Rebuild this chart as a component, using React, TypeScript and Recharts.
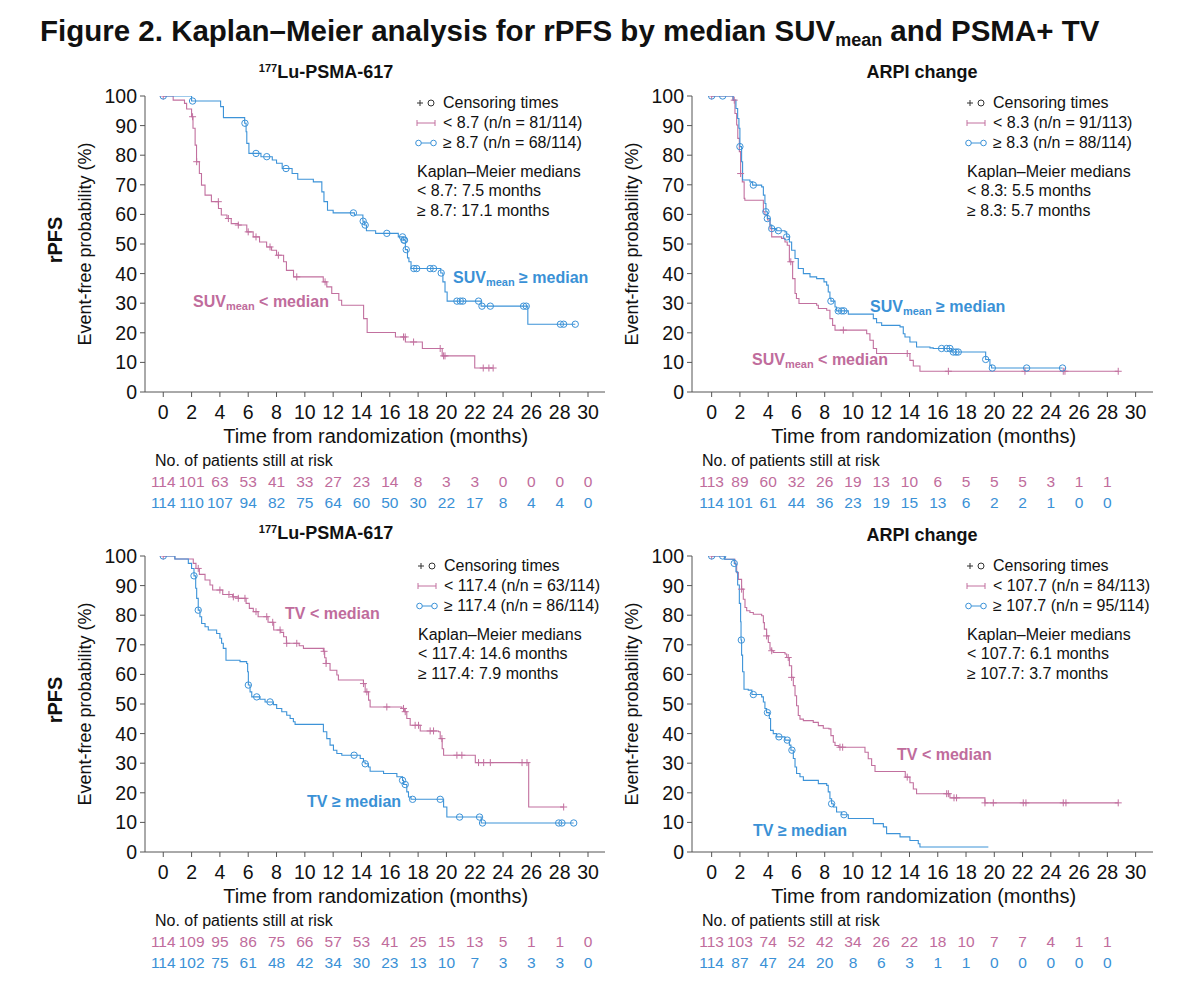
import React from "react";
import { ComposedChart, Line, XAxis, YAxis } from "recharts";

type Step = [number, number];

const FONT = '"Liberation Sans", Arial, Helvetica, sans-serif';
const PINK = "#c2709f";
const BLUE = "#3d93d8";
const PINK_TEXT = "#c06c9c";
const BLUE_TEXT = "#3a91d6";
const AXIS = "#555";
const INK = "#111";

const monthTicks = [0, 2, 4, 6, 8, 10, 12, 14, 16, 18, 20, 22, 24, 26, 28, 30];
const pctTicks = [0, 10, 20, 30, 40, 50, 60, 70, 80, 90, 100];

// ---------- 177Lu-PSMA-617, split by median SUVmean (8.7) ----------
const luSuvLow: Step[] = [
  [0, 100], [0.7, 98.6], [1.5, 97.5], [1.65, 95.6], [2.0, 93.0], [2.1, 89.1], [2.25, 83.4],
  [2.35, 77.8], [2.55, 73.8], [2.7, 69.9], [2.95, 66.5], [3.4, 64.3], [3.9, 62.0], [4.1, 59.8],
  [4.5, 58.6], [4.8, 56.9], [5.3, 56.4], [5.9, 54.1], [6.35, 52.4], [6.8, 50.7], [7.3, 49.0],
  [7.65, 47.9], [8.0, 46.2], [8.5, 44.0], [8.7, 41.1], [9.2, 38.9], [11.3, 37.2], [11.55, 35.5],
  [11.9, 33.3], [12.4, 31.0], [12.6, 29.3], [14.15, 24.8], [14.4, 20.1], [16.4, 18.6],
  [17.1, 16.9], [18.3, 14.7], [19.7, 12.2], [22.0, 8.1], [23.3, 8.1],
];
const luSuvLowCensor = [
  0, 2.07, 2.36, 3.89, 4.6, 5.3, 6.0, 6.55, 7.54, 8.13, 9.43, 11.43, 16.97, 17.09, 17.68,
  19.56, 19.8, 19.9, 22.6, 23.0, 23.3,
];
const luSuvHigh: Step[] = [
  [0, 100], [2.0, 98.3], [4.05, 96.4], [4.25, 92.7], [5.75, 90.8], [5.85, 87.9], [5.9, 84.0],
  [6.05, 80.6], [6.9, 79.5], [7.7, 78.4], [8.0, 77.3], [8.4, 75.5], [9.1, 73.8], [9.5, 71.9],
  [10.6, 71.0], [11.2, 67.6], [11.35, 64.3], [11.6, 61.4], [12.0, 60.5], [13.5, 59.8],
  [14.1, 57.7], [14.2, 56.4], [14.35, 54.5], [15.0, 53.6], [16.6, 52.4], [16.95, 51.3],
  [17.1, 48.1], [17.25, 45.3], [17.35, 44.0], [17.5, 41.7], [19.6, 40.2], [19.75, 37.2],
  [19.9, 33.8], [20.05, 30.7], [22.45, 29.0], [25.75, 22.9], [29.1, 22.9],
];
const luSuvHighCensor = [
  0, 2.07, 5.77, 6.55, 7.31, 8.67, 13.43, 14.12, 14.26, 15.79, 16.9, 17.0, 17.04, 17.16,
  17.7, 17.9, 18.85, 19.09, 19.63, 20.74, 20.98, 21.16, 22.27, 22.51, 23.1, 25.45, 25.64,
  28.05, 28.28, 29.1,
];

// ---------- ARPI change, split by median SUVmean (8.3) ----------
const arpiSuvLow: Step[] = [
  [0, 100], [1.5, 98.6], [1.65, 94.1], [1.77, 90.2], [1.85, 85.7], [1.96, 81.2], [2.05, 73.8],
  [2.17, 71.0], [2.3, 65.4], [2.35, 64.8], [3.66, 60.9], [3.77, 59.8], [3.96, 58.1],
  [4.13, 55.2], [4.25, 52.4], [4.95, 51.9], [5.19, 50.7], [5.35, 49.6], [5.5, 44.0],
  [5.73, 38.3], [5.9, 33.3], [6.0, 31.6], [6.18, 29.9], [7.43, 29.3], [7.55, 28.2],
  [8.14, 27.6], [8.37, 24.8], [8.56, 22.5], [8.73, 20.9], [10.97, 19.7], [11.2, 17.5],
  [11.44, 14.7], [11.67, 13.0], [14.03, 10.7], [14.27, 8.8], [14.74, 7.0], [28.77, 7.0],
];
const arpiSuvLowCensor = [0, 1.6, 2.05, 5.6, 9.32, 13.84, 16.75, 22.17, 24.88, 25.0, 28.77];
const arpiSuvHigh: Step[] = [
  [0, 100], [1.53, 98.6], [1.72, 95.8], [1.84, 92.4], [1.93, 89.1], [2.0, 82.9], [2.12, 77.8],
  [2.19, 71.6], [2.71, 71.0], [2.9, 69.9], [3.54, 69.3], [3.66, 66.5], [3.77, 63.7],
  [3.84, 60.9], [3.94, 58.6], [4.13, 56.4], [4.25, 55.2], [4.6, 54.5], [5.19, 54.1],
  [5.31, 52.4], [5.5, 50.7], [5.66, 47.9], [5.9, 45.1], [6.13, 41.7], [6.49, 40.0],
  [6.96, 38.9], [7.43, 38.3], [7.95, 37.2], [8.14, 36.1], [8.25, 33.8], [8.37, 31.6],
  [8.44, 30.7], [8.73, 28.7], [8.84, 27.4], [9.67, 26.3], [11.44, 24.8], [11.67, 23.4],
  [12.03, 22.5], [13.33, 22.0], [13.56, 19.7], [13.68, 18.6], [14.03, 16.9], [14.5, 15.2],
  [15.45, 14.9], [15.68, 14.7], [16.98, 13.5], [19.39, 11.0], [19.69, 9.0], [19.81, 8.1],
  [24.83, 8.1],
];
const arpiSuvHighCensor = [
  0, 0.78, 2.0, 2.95, 3.84, 3.94, 4.25, 4.72, 5.31, 8.44, 8.96, 9.2, 9.36, 16.27, 16.63,
  16.86, 17.1, 17.29, 17.45, 19.39, 19.86, 22.29, 24.83,
];

// ---------- 177Lu-PSMA-617, split by median PSMA+ TV (117.4) ----------
const luTvLow: Step[] = [
  [0, 100], [0.82, 99.0], [2.12, 97.5], [2.31, 95.8], [2.55, 93.8], [2.95, 91.9], [3.3, 90.2],
  [3.49, 88.5], [4.2, 87.0], [4.9, 86.2], [5.3, 85.7], [5.85, 84.0], [6.08, 82.3],
  [6.36, 81.2], [6.7, 79.5], [7.4, 77.6], [7.8, 75.0], [8.3, 74.2], [8.5, 72.7], [8.7, 70.5],
  [9.6, 69.7], [9.9, 68.8], [11.31, 67.8], [11.4, 65.6], [11.5, 63.7], [11.78, 61.4],
  [12.26, 59.8], [12.37, 58.1], [14.14, 56.9], [14.26, 54.1], [14.5, 51.3], [14.61, 49.0],
  [16.85, 48.5], [17.05, 47.4], [17.2, 45.1], [17.44, 42.8], [18.15, 40.9], [19.44, 40.6],
  [19.56, 38.3], [19.7, 34.9], [19.8, 32.7], [22.04, 30.2], [25.81, 15.2], [28.28, 15.2],
];
const luTvLowCensor = [
  0, 2.47, 4.0, 4.64, 4.95, 5.3, 5.77, 6.55, 7.31, 7.73, 8.25, 8.72, 9.43, 11.36, 11.5,
  14.14, 14.38, 15.79, 16.97, 17.09, 17.79, 18.03, 18.85, 19.09, 19.68, 20.74, 21.09,
  22.27, 22.63, 23.1, 25.34, 25.69, 28.28,
];
const luTvHigh: Step[] = [
  [0, 100], [0.82, 99.0], [1.77, 97.5], [2.0, 95.8], [2.17, 93.3], [2.29, 89.1], [2.36, 85.7],
  [2.47, 81.7], [2.59, 79.5], [2.71, 77.2], [2.95, 76.1], [3.18, 75.0], [3.77, 73.8],
  [4.0, 72.2], [4.12, 70.5], [4.24, 68.8], [4.43, 64.8], [5.42, 64.3], [5.89, 63.7],
  [5.96, 60.9], [6.01, 56.4], [6.13, 54.1], [6.25, 52.4], [6.83, 51.6], [7.19, 50.7],
  [7.78, 49.8], [8.01, 48.5], [8.37, 47.4], [8.72, 46.2], [8.96, 45.1], [9.19, 44.0],
  [9.31, 43.1], [11.31, 40.6], [11.55, 38.3], [11.78, 36.1], [12.02, 34.4], [12.26, 33.3],
  [12.61, 32.7], [13.91, 31.6], [14.14, 30.4], [14.26, 29.8], [14.49, 28.7], [14.61, 27.3],
  [15.56, 26.5], [16.5, 25.4], [16.9, 24.2], [16.97, 22.8], [17.2, 20.3], [17.32, 18.6],
  [17.5, 17.8], [19.8, 15.2], [20.03, 11.8], [22.46, 9.8], [28.99, 9.8],
];
const luTvHighCensor = [
  0, 2.17, 2.47, 6.01, 6.6, 7.54, 13.48, 14.26, 16.9, 17.09, 17.61, 19.56, 20.93, 22.34,
  22.55, 27.93, 28.16, 28.99,
];

// ---------- ARPI change, split by median PSMA+ TV (107.7) ----------
const arpiTvLow: Step[] = [
  [0, 100], [0.94, 98.9], [1.65, 97.2], [1.77, 94.4], [1.89, 92.1], [2.12, 88.8], [2.24, 85.4],
  [2.36, 82.6], [2.48, 81.5], [2.71, 80.9], [2.95, 80.3], [3.54, 79.8], [3.66, 77.5],
  [3.73, 75.3], [3.89, 73.0], [4.01, 70.8], [4.13, 68.5], [4.25, 68.0], [4.36, 67.4],
  [5.19, 66.9], [5.31, 65.7], [5.5, 62.9], [5.66, 59.0], [5.78, 56.2], [5.9, 52.8],
  [6.01, 49.4], [6.13, 46.1], [6.25, 44.9], [6.49, 44.4], [7.19, 43.8], [7.55, 42.7],
  [7.9, 41.8], [8.3, 41.6], [8.44, 39.3], [8.61, 37.1], [8.73, 36.0], [9.0, 35.4],
  [10.85, 33.7], [11.08, 31.5], [11.32, 29.2], [11.56, 27.2], [13.7, 25.3], [14.03, 23.4],
  [14.27, 21.3], [14.5, 19.7], [16.86, 18.3], [19.34, 16.6], [28.77, 16.6],
];
const arpiTvLowCensor = [
  0, 2.12, 3.89, 4.25, 5.42, 5.66, 9.08, 9.27, 13.84, 16.63, 16.75, 17.15, 17.33, 19.34,
  19.93, 22.05, 22.24, 24.88, 25.07, 28.77,
];
const arpiTvHigh: Step[] = [
  [0, 100], [0.9, 98.9], [1.6, 97.5], [1.72, 94.7], [1.84, 90.2], [1.96, 84.0], [2.05, 77.8],
  [2.08, 71.6], [2.12, 66.5], [2.19, 60.9], [2.29, 55.0], [2.59, 54.7], [2.85, 53.2],
  [3.54, 52.4], [3.66, 50.7], [3.77, 48.5], [3.89, 47.1], [4.08, 45.1], [4.17, 41.1],
  [4.36, 40.0], [4.6, 38.9], [5.19, 37.8], [5.5, 36.1], [5.61, 34.4], [5.78, 31.6],
  [5.9, 28.7], [6.01, 26.5], [6.25, 25.4], [6.49, 24.2], [7.55, 23.1], [8.14, 22.5],
  [8.25, 20.3], [8.37, 18.0], [8.49, 16.3], [8.61, 15.2], [8.84, 13.5], [9.2, 12.6],
  [9.67, 11.3], [11.44, 9.6], [12.15, 8.5], [12.38, 6.2], [13.33, 5.1], [14.03, 3.9],
  [14.62, 2.8], [14.74, 1.7], [19.58, 1.7],
];
const arpiTvHighCensor = [0, 0.78, 1.6, 2.1, 2.95, 3.95, 4.76, 5.35, 5.68, 8.49, 9.36];

// ---------- Numbers at risk (every 2 months) ----------
const luSuvLowRisk = [114, 101, 63, 53, 41, 33, 27, 23, 14, 8, 3, 3, 0, 0, 0, 0];
const luSuvHighRisk = [114, 110, 107, 94, 82, 75, 64, 60, 50, 30, 22, 17, 8, 4, 4, 0];
const arpiSuvLowRisk = [113, 89, 60, 32, 26, 19, 13, 10, 6, 5, 5, 5, 3, 1, 1];
const arpiSuvHighRisk = [114, 101, 61, 44, 36, 23, 19, 15, 13, 6, 2, 2, 1, 0, 0];
const luTvLowRisk = [114, 109, 95, 86, 75, 66, 57, 53, 41, 25, 15, 13, 5, 1, 1, 0];
const luTvHighRisk = [114, 102, 75, 61, 48, 42, 34, 30, 23, 13, 10, 7, 3, 3, 3, 0];
const arpiTvLowRisk = [113, 103, 74, 52, 42, 34, 26, 22, 18, 10, 7, 7, 4, 1, 1];
const arpiTvHighRisk = [114, 87, 47, 24, 20, 8, 6, 3, 1, 1, 0, 0, 0, 0, 0];

// ---------- Helpers ----------
function survivalAt(steps: Step[], t: number): number {
  let s = steps[0][1];
  for (const [ti, si] of steps) {
    if (ti <= t + 1e-9) s = si;
    else break;
  }
  return s;
}
const curveRows = (steps: Step[]) => steps.map(([t, s]) => ({ t, s }));
const censorRows = (times: number[], steps: Step[]) =>
  times.map((t) => ({ t, s: survivalAt(steps, t) }));

const plusDot = (p: any) => {
  if (p.cx == null || p.cy == null) return <g key={`p${p.index}`} />;
  const { cx, cy } = p;
  return (
    <path
      key={`p${p.index}`}
      d={`M${cx - 3.5},${cy}H${cx + 3.5}M${cx},${cy - 3.5}V${cy + 3.5}`}
      stroke={PINK}
      strokeWidth={1}
      fill="none"
    />
  );
};
const circleDot = (p: any) => {
  if (p.cx == null || p.cy == null) return <g key={`c${p.index}`} />;
  return (
    <circle key={`c${p.index}`} cx={p.cx} cy={p.cy} r={3.2} stroke={BLUE} strokeWidth={1} fill="none" />
  );
};

type Box = { x: number; y: number; w: number; h: number; dom: [number, number] };

const boxTL: Box = { x: 145, y: 96, w: 460, h: 296, dom: [-1.29, 31.2] };
const boxTR: Box = { x: 692, y: 96, w: 461, h: 296, dom: [-1.39, 31.23] };
const boxBL: Box = { x: 145, y: 556, w: 460, h: 296, dom: [-1.29, 31.2] };
const boxBR: Box = { x: 692, y: 556, w: 461, h: 296, dom: [-1.39, 31.23] };

const xOf = (b: Box, t: number) => b.x + ((t - b.dom[0]) / (b.dom[1] - b.dom[0])) * b.w;

// ---------- Text helpers ----------
const Txt: React.FC<{
  x: number;
  y: number;
  size: number;
  color?: string;
  bold?: boolean;
  align?: "left" | "center" | "right";
  children: React.ReactNode;
  rotate?: boolean;
}> = ({ x, y, size, color = INK, bold, align = "left", children, rotate }) => {
  const tx = align === "center" ? "-50%" : align === "right" ? "-100%" : "0";
  return (
    <div
      style={{
        position: "absolute",
        left: x,
        top: y,
        transform: rotate ? "translate(-50%,-50%) rotate(-90deg)" : `translate(${tx},-50%)`,
        fontFamily: FONT,
        fontSize: size,
        fontWeight: bold ? 700 : 400,
        color,
        lineHeight: 1,
        whiteSpace: "nowrap",
      }}
    >
      {children}
    </div>
  );
};

const Sub: React.FC<{ children: React.ReactNode; size: number }> = ({ children, size }) => (
  <span style={{ fontSize: size, position: "relative", top: "0.3em" }}>{children}</span>
);

// ---------- Panel pieces ----------
function KMChart(props: {
  box: Box;
  low: Step[];
  high: Step[];
  lowCensor: number[];
  highCensor: number[];
}) {
  const { box, low, high, lowCensor, highCensor } = props;
  const yw = 60;
  const mt = 10;
  const mr = 10;
  const xh = 40;
  const tickStyle = { fill: INK, fontSize: 19.5, fontFamily: FONT };
  return (
    <div style={{ position: "absolute", left: box.x - yw, top: box.y - mt }}>
      <ComposedChart
        width={yw + box.w + mr}
        height={mt + box.h + xh}
        margin={{ top: mt, right: mr, bottom: 0, left: 0 }}
      >
        <XAxis
          dataKey="t"
          type="number"
          domain={box.dom}
          ticks={monthTicks}
          interval={0}
          allowDataOverflow
          height={xh}
          tickSize={5}
          tickMargin={8}
          tick={tickStyle}
          stroke={AXIS}
        />
        <YAxis
          type="number"
          domain={[0, 100]}
          ticks={pctTicks}
          interval={0}
          allowDataOverflow
          width={yw}
          tickSize={5}
          tickMargin={3}
          tick={tickStyle}
          stroke={AXIS}
        />
        <Line
          data={curveRows(low)}
          dataKey="s"
          type="stepAfter"
          stroke={PINK}
          strokeWidth={1.1}
          dot={false}
          activeDot={false}
          isAnimationActive={false}
        />
        <Line
          data={curveRows(high)}
          dataKey="s"
          type="stepAfter"
          stroke={BLUE}
          strokeWidth={1.1}
          dot={false}
          activeDot={false}
          isAnimationActive={false}
        />
        <Line
          data={censorRows(lowCensor, low)}
          dataKey="s"
          stroke="none"
          dot={plusDot}
          activeDot={false}
          isAnimationActive={false}
        />
        <Line
          data={censorRows(highCensor, high)}
          dataKey="s"
          stroke="none"
          dot={circleDot}
          activeDot={false}
          isAnimationActive={false}
        />
      </ComposedChart>
    </div>
  );
}

function KMLegend(props: {
  x: number;
  y: number;
  cut: string;
  lowN: string;
  highN: string;
  lowMed: string;
  highMed: string;
}) {
  const { x, y, cut, lowN, highN, lowMed, highMed } = props;
  const fs = 16;
  const tx = x + 26;
  return (
    <>
      <svg
        style={{ position: "absolute", left: x - 2, top: y - 10, overflow: "visible" }}
        width={24}
        height={52}
      >
        {/* censoring key */}
        <path d="M2,10H8M5,7V13" stroke="#333" strokeWidth={1} />
        <circle cx={16} cy={10} r={3} stroke="#333" strokeWidth={1} fill="none" />
        {/* low group key */}
        <path d="M2,30H20M2,27V33M20,27V33" stroke={PINK} strokeWidth={1} fill="none" />
        {/* high group key */}
        <path d="M5,50H17" stroke={BLUE} strokeWidth={1} />
        <circle cx={3.5} cy={50} r={2.8} stroke={BLUE} strokeWidth={1} fill="white" />
        <circle cx={18.5} cy={50} r={2.8} stroke={BLUE} strokeWidth={1} fill="white" />
      </svg>
      <Txt x={tx} y={y} size={fs}>Censoring times</Txt>
      <Txt x={tx} y={y + 20} size={fs}>{`< ${cut} (n/n = ${lowN})`}</Txt>
      <Txt x={tx} y={y + 40} size={fs}>{`≥ ${cut} (n/n = ${highN})`}</Txt>
      <Txt x={x} y={y + 69} size={fs}>Kaplan–Meier medians</Txt>
      <Txt x={x} y={y + 88} size={fs}>{`< ${cut}: ${lowMed} months`}</Txt>
      <Txt x={x} y={y + 108} size={fs}>{`≥ ${cut}: ${highMed} months`}</Txt>
    </>
  );
}

function AtRisk(props: { box: Box; y: number; low: number[]; high: number[] }) {
  const { box, y, low, high } = props;
  return (
    <>
      <Txt x={box.x + 10} y={y} size={16}>No. of patients still at risk</Txt>
      {low.map((v, i) => (
        <Txt key={`l${i}`} x={xOf(box, monthTicks[i])} y={y + 21} size={15.5} color={PINK_TEXT} align="center">
          {v}
        </Txt>
      ))}
      {high.map((v, i) => (
        <Txt key={`h${i}`} x={xOf(box, monthTicks[i])} y={y + 42} size={15.5} color={BLUE_TEXT} align="center">
          {v}
        </Txt>
      ))}
    </>
  );
}

function AxisTitles(props: { box: Box; rpfs: boolean }) {
  const { box, rpfs } = props;
  const midY = box.y + box.h / 2;
  return (
    <>
      <Txt x={box.x - 60} y={midY} size={18} rotate align="center">
        Event-free probability (%)
      </Txt>
      {rpfs && (
        <Txt x={box.x - 90} y={midY - 4} size={20} bold rotate align="center">
          rPFS
        </Txt>
      )}
      <Txt x={xOf(box, 15)} y={box.y + box.h + 44} size={20} align="center">
        Time from randomization (months)
      </Txt>
    </>
  );
}

const LuTitle: React.FC<{ x: number; y: number }> = ({ x, y }) => (
  <Txt x={x} y={y} size={18} bold align="center">
    <span style={{ fontSize: 11, position: "relative", top: "-0.55em" }}>177</span>Lu-PSMA-617
  </Txt>
);

const SuvLabel: React.FC<{ op: string }> = ({ op }) => (
  <>
    SUV<Sub size={11}>mean</Sub>
    {` ${op} median`}
  </>
);

export default function App() {
  return (
    <div
      style={{
        position: "absolute",
        left: 0,
        top: 0,
        width: 1200,
        height: 987,
        background: "#fff",
        overflow: "hidden",
      }}
    >
      <Txt x={40} y={31} size={29.5} bold>
        Figure 2. Kaplan–Meier analysis for rPFS by median SUV
        <Sub size={18}>mean</Sub> and PSMA+ TV
      </Txt>

      {/* Top-left: 177Lu-PSMA-617 by SUVmean */}
      <LuTitle x={326} y={72} />
      <KMChart box={boxTL} low={luSuvLow} high={luSuvHigh} lowCensor={luSuvLowCensor} highCensor={luSuvHighCensor} />
      <AxisTitles box={boxTL} rpfs />
      <KMLegend x={417} y={103} cut="8.7" lowN="81/114" highN="68/114" lowMed="7.5" highMed="17.1" />
      <Txt x={453} y={278} size={16} bold color={BLUE_TEXT}><SuvLabel op="≥" /></Txt>
      <Txt x={193} y={302} size={16} bold color={PINK_TEXT}><SuvLabel op="<" /></Txt>
      <AtRisk box={boxTL} y={461} low={luSuvLowRisk} high={luSuvHighRisk} />

      {/* Top-right: ARPI change by SUVmean */}
      <Txt x={922} y={72} size={18} bold align="center">ARPI change</Txt>
      <KMChart box={boxTR} low={arpiSuvLow} high={arpiSuvHigh} lowCensor={arpiSuvLowCensor} highCensor={arpiSuvHighCensor} />
      <AxisTitles box={boxTR} rpfs={false} />
      <KMLegend x={967} y={103} cut="8.3" lowN="91/113" highN="88/114" lowMed="5.5" highMed="5.7" />
      <Txt x={870} y={307} size={16} bold color={BLUE_TEXT}><SuvLabel op="≥" /></Txt>
      <Txt x={752} y={360} size={16} bold color={PINK_TEXT}><SuvLabel op="<" /></Txt>
      <AtRisk box={boxTR} y={461} low={arpiSuvLowRisk} high={arpiSuvHighRisk} />

      {/* Bottom-left: 177Lu-PSMA-617 by PSMA+ TV */}
      <LuTitle x={326} y={533} />
      <KMChart box={boxBL} low={luTvLow} high={luTvHigh} lowCensor={luTvLowCensor} highCensor={luTvHighCensor} />
      <AxisTitles box={boxBL} rpfs />
      <KMLegend x={418} y={566} cut="117.4" lowN="63/114" highN="86/114" lowMed="14.6" highMed="7.9" />
      <Txt x={285} y={614} size={16} bold color={PINK_TEXT}>TV &lt; median</Txt>
      <Txt x={307} y={802} size={16} bold color={BLUE_TEXT}>TV ≥ median</Txt>
      <AtRisk box={boxBL} y={921} low={luTvLowRisk} high={luTvHighRisk} />

      {/* Bottom-right: ARPI change by PSMA+ TV */}
      <Txt x={922} y={535} size={18} bold align="center">ARPI change</Txt>
      <KMChart box={boxBR} low={arpiTvLow} high={arpiTvHigh} lowCensor={arpiTvLowCensor} highCensor={arpiTvHighCensor} />
      <AxisTitles box={boxBR} rpfs={false} />
      <KMLegend x={967} y={566} cut="107.7" lowN="84/113" highN="95/114" lowMed="6.1" highMed="3.7" />
      <Txt x={897} y={755} size={16} bold color={PINK_TEXT}>TV &lt; median</Txt>
      <Txt x={753} y={831} size={16} bold color={BLUE_TEXT}>TV ≥ median</Txt>
      <AtRisk box={boxBR} y={921} low={arpiTvLowRisk} high={arpiTvHighRisk} />
    </div>
  );
}
